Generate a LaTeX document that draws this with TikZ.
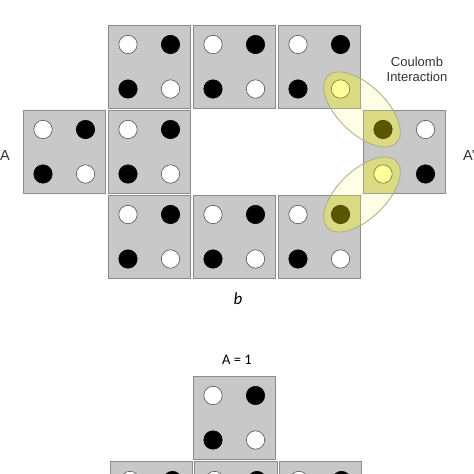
\documentclass[tikz,border=0pt]{standalone}
\usepackage{fontspec}
\setmainfont{Liberation Sans}
\newfontfamily\calib{Carlito}

\definecolor{cellgray}{HTML}{C8C8C8}
\definecolor{cellline}{HTML}{8C8C8C}
\definecolor{dotline}{HTML}{555555}
\definecolor{paleyel}{HTML}{FEFEE6}
\definecolor{oliveyel}{HTML}{DADA82}
\definecolor{ringline}{HTML}{A8A88C}
\definecolor{lightdot}{HTML}{FFFF99}
\definecolor{darkdot}{HTML}{5A5600}
\definecolor{labelgray}{HTML}{333333}

\begin{document}
\begin{tikzpicture}[
        x=1pt,y=1pt,
        cell/.style={fill=cellgray,draw=cellline,line width=0.8pt},
        hotcell/.style={fill=oliveyel,draw=cellline!70!oliveyel,line width=0.8pt},
        wdot/.style={fill=white,draw=dotline,line width=0.6pt},
        bdot/.style={fill=black,draw=black,line width=0.6pt},
        ydot/.style={fill=lightdot,draw=darkdot!80,line width=0.6pt},
        odot/.style={fill=darkdot,draw=darkdot!80!black,line width=0.6pt},
        ring/.style={draw=ringline,line width=0.8pt},
        lbl/.style={text=labelgray,font=\fontsize{13}{15.5}\selectfont},
      ]
      \useasboundingbox (0,0) rectangle (474,474);

      % cells
      \foreach \x/\y in {108/366,193/366,278/366,23/281,108/281,363/281,
                         108/196,193/196,278/196,193/15,110/-70,194.5/-70,279/-70}
        \draw[cell] (\x,\y) rectangle ++(82.5,82.5);

      % coulomb ellipses
      \coordinate (upc) at (362,364.5);
      \coordinate (loc) at (362,279.5);
      \fill[paleyel,rotate around={-44:(upc)}] (upc) ellipse [x radius=48, y radius=24];
      \fill[paleyel,rotate around={44:(loc)}] (loc) ellipse [x radius=48, y radius=24];
      \begin{scope}
        \clip[rotate around={-44:(upc)}] (upc) ellipse [x radius=48, y radius=24];
        \draw[hotcell] (278,366) rectangle ++(82.5,82.5);
        \draw[hotcell] (363,281) rectangle ++(82.5,82.5);
      \end{scope}
      \begin{scope}
        \clip[rotate around={44:(loc)}] (loc) ellipse [x radius=48, y radius=24];
        \draw[hotcell] (278,196) rectangle ++(82.5,82.5);
        \draw[hotcell] (363,281) rectangle ++(82.5,82.5);
      \end{scope}
      \draw[ring,rotate around={-44:(upc)}] (upc) ellipse [x radius=48, y radius=24];
      \draw[ring,rotate around={44:(loc)}] (loc) ellipse [x radius=48, y radius=24];

      % dots
      \foreach \x/\y/\tl/\tr/\bl/\br in {
          108/366/wdot/bdot/bdot/wdot, 193/366/wdot/bdot/bdot/wdot,
          278/366/wdot/bdot/bdot/ydot,
          23/281/wdot/bdot/bdot/wdot, 108/281/wdot/bdot/bdot/wdot,
          363/281/odot/wdot/ydot/bdot,
          108/196/wdot/bdot/bdot/wdot, 193/196/wdot/bdot/bdot/wdot,
          278/196/wdot/odot/bdot/wdot,
          193/15/wdot/bdot/bdot/wdot,
          110/-70/wdot/bdot/bdot/wdot, 194.5/-70/wdot/bdot/bdot/wdot,
          279/-70/wdot/bdot/bdot/wdot}{
        \draw[\tl] (\x+20,\y+63.5) circle (9.2);
        \draw[\tr] (\x+62.5,\y+63.5) circle (9.2);
        \draw[\bl] (\x+20,\y+19) circle (9.2);
        \draw[\br] (\x+62.5,\y+19) circle (9.2);
      }

      % labels
      \node[lbl,align=center] (coulomb) at (417,404.5) {Coulomb\\Interaction};
      \node[lbl,font=\fontsize{14.5}{17}\selectfont] (portA) at (5,318) {A};
      \node[lbl,font=\fontsize{14.5}{17}\selectfont] (portB) at (469,318) {A'};
      \node[font=\calib\itshape\fontsize{17}{20}\selectfont] (caption) at (238,175) {b};
      \node[font=\calib\fontsize{14.5}{17}\selectfont] (count) at (237,114) {A = 1};

    \end{tikzpicture}
\end{document}
